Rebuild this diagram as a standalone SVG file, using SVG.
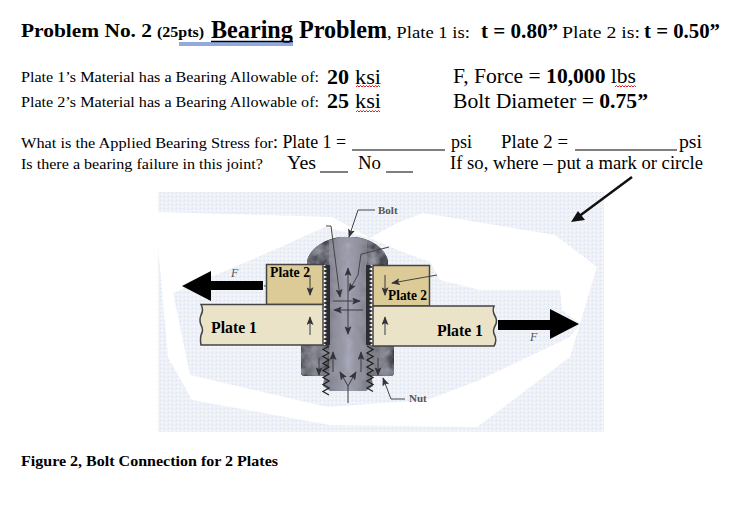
<svg xmlns="http://www.w3.org/2000/svg" width="749" height="507" viewBox="0 0 749 507">
<style>
text{font-family:"Liberation Serif","Times New Roman",serif;fill:#000}
.b{font-weight:bold}
.s{font-size:15px}
.m{font-size:18px}
.l{font-size:21px}
.ul{stroke:#000;stroke-width:1.2;fill:none}
.sq{stroke:#e02020;stroke-width:1;fill:none}
.pl2{fill:#dccb96;stroke:#444;stroke-width:1.5}
.pl1{fill:#ebe3c8;stroke:#444;stroke-width:1.5}
.lab{font-weight:bold;font-size:14px}
.lead{stroke:#444;stroke-width:1;fill:none;marker-end:url(#sm)}
.in{stroke:#3a3a42;stroke-width:1;fill:none;marker-end:url(#sm)}
.noh{stroke:#444;stroke-width:1;fill:none}
.cap{font-size:11px;font-weight:bold;fill:#555}
.th{fill:#2c2c30;stroke:none}
</style>
<defs>
<marker id="sm" viewBox="0 0 10 8" refX="9" refY="4" markerWidth="9" markerHeight="7" markerUnits="userSpaceOnUse" orient="auto"><path d="M0 0L10 4L0 8L2 4Z" fill="#33333a"/></marker>
<pattern id="dith" width="4" height="4" patternUnits="userSpaceOnUse"><rect width="4" height="4" fill="#eef2f8"/><rect width="1" height="1" fill="#dbe2f0"/><rect x="2" y="2" width="1" height="1" fill="#fff"/><rect x="3" y="1" width="1" height="1" fill="#e4e9f4"/></pattern>
<filter id="mott" x="0" y="0" width="100%" height="100%"><feTurbulence type="fractalNoise" baseFrequency="0.09" numOctaves="3" seed="4"/><feColorMatrix values="0 0 0 0 0.3  0 0 0 0 0.3  0 0 0 0 0.36  1.8 0 0 0 -0.5"/><feComposite in2="SourceAlpha" operator="in" result="n"/><feMerge><feMergeNode in="SourceGraphic"/><feMergeNode in="n"/></feMerge></filter>
<linearGradient id="shaft" x1="0" x2="1" y1="0" y2="0"><stop offset="0" stop-color="#6c6c76"/><stop offset=".5" stop-color="#a8a9ba"/><stop offset="1" stop-color="#6c6c76"/></linearGradient>
<linearGradient id="nutg" x1="0" x2="1" y1="0" y2="0"><stop offset="0" stop-color="#505056"/><stop offset=".5" stop-color="#7c7c84"/><stop offset="1" stop-color="#404046"/></linearGradient>
</defs>
<rect width="749" height="507" fill="#fff"/>

<g id="background">
<rect x="158" y="192" width="446" height="240" fill="url(#dith)"/>
<path fill="#fff" d="M158 212L332 217L370 238L397 223L423 213L555 235L597 267L593 280L570 357L477 427L330 425L192 400L168 357L158 245Z"/>
<path fill="url(#dith)" d="M173 293L267 253L325 227L370 238L390 247L430 262L440 280L480 290L560 290L562 310L580 324L570 337L480 380L427 400L327 407L190 375Z"/>
</g>

<g id="title">
<text x="21" y="37" class="b" font-size="19" textLength="131" lengthAdjust="spacingAndGlyphs">Problem No. 2</text>
<text x="157" y="37" class="b" font-size="15" textLength="47" lengthAdjust="spacingAndGlyphs">(25pts)</text>
<text x="211" y="38" class="b" font-size="25" textLength="176" lengthAdjust="spacingAndGlyphs">Bearing Problem</text>
<text x="387" y="38" font-size="17" textLength="83" lengthAdjust="spacingAndGlyphs">, Plate 1 is:</text>
<text x="481" y="38" class="b" font-size="20" textLength="77" lengthAdjust="spacingAndGlyphs">t = 0.80”</text>
<text x="562" y="38" font-size="17" textLength="78" lengthAdjust="spacingAndGlyphs">Plate 2 is:</text>
<text x="644" y="38" class="b" font-size="20" textLength="76" lengthAdjust="spacingAndGlyphs">t = 0.50”</text>
<path d="M211 41.500H293" stroke="#000" stroke-width="1.500" fill="none"/>
<path d="M179 43H293M179 45H293" stroke="#2a55b8" stroke-width="1" fill="none"/>
</g>

<g id="givens">
<text x="21" y="82" class="s" textLength="298" lengthAdjust="spacingAndGlyphs">Plate 1’s Material has a Bearing Allowable of:</text>
<text x="327" y="84" class="b l" textLength="22" lengthAdjust="spacingAndGlyphs">20</text>
<text x="355" y="84" class="l" textLength="26" lengthAdjust="spacingAndGlyphs">ksi</text>
<text x="453" y="83" class="l" textLength="183" lengthAdjust="spacingAndGlyphs">F, Force = <tspan class="b">10,000</tspan> lbs</text>
<text x="21" y="107" class="s" textLength="298" lengthAdjust="spacingAndGlyphs">Plate 2’s Material has a Bearing Allowable of:</text>
<text x="327" y="108" class="b l" textLength="22" lengthAdjust="spacingAndGlyphs">25</text>
<text x="355" y="108" class="l" textLength="26" lengthAdjust="spacingAndGlyphs">ksi</text>
<text x="453" y="108" class="l" textLength="195" lengthAdjust="spacingAndGlyphs">Bolt Diameter = <tspan class="b">0.75”</tspan></text>
<path class="sq" d="M356 87l1.500 -1.500l1.500 1.500l1.500 -1.500l1.500 1.500l1.500 -1.500l1.500 1.500l1.500 -1.500l1.500 1.500l1.500 -1.500l1.500 1.500l1.500 -1.500l1.500 1.500l1.500 -1.500l1.500 1.500l1.500 -1.500l1.500 1.500"/>
<path class="sq" d="M356 112l1.500 -1.500l1.500 1.500l1.500 -1.500l1.500 1.500l1.500 -1.500l1.500 1.500l1.500 -1.500l1.500 1.500l1.500 -1.500l1.500 1.500l1.500 -1.500l1.500 1.500l1.500 -1.500l1.500 1.500l1.500 -1.500l1.500 1.500"/>
<path class="sq" d="M615 87l1.500 -1.500l1.500 1.500l1.500 -1.500l1.500 1.500l1.500 -1.500l1.500 1.500l1.500 -1.500l1.500 1.500l1.500 -1.500l1.500 1.500l1.500 -1.500l1.500 1.500l1.500 -1.500l1.500 1.500"/>
</g>

<g id="questions">
<text x="21" y="148" class="s" textLength="252" lengthAdjust="spacingAndGlyphs">What is the Applied Bearing Stress for</text>
<text x="273" y="148" class="m" textLength="73" lengthAdjust="spacingAndGlyphs">: Plate 1 =</text>
<text x="451" y="148" class="m" textLength="21" lengthAdjust="spacingAndGlyphs">psi</text>
<text x="501" y="148" class="m" textLength="67" lengthAdjust="spacingAndGlyphs">Plate 2 =</text>
<text x="679" y="148" class="m" textLength="23" lengthAdjust="spacingAndGlyphs">psi</text>
<text x="21" y="169" class="s" textLength="242" lengthAdjust="spacingAndGlyphs">Is there a bearing failure in this joint?</text>
<text x="287" y="169" class="m" textLength="29" lengthAdjust="spacingAndGlyphs">Yes</text>
<text x="358" y="169" class="m" textLength="23" lengthAdjust="spacingAndGlyphs">No</text>
<text x="450" y="169" class="m" textLength="253" lengthAdjust="spacingAndGlyphs">If so, where – put a mark or circle</text>
<path class="ul" d="M352 150H445M575 150H677M320 172H348M386 172H413"/>
</g>

<g id="bolt">
<path d="M307 265C307 250 325 237 348 237C371 237 388 250 388 265Z" fill="#4a4a52" filter="url(#mott)" stroke="#333" stroke-width="1"/>
<path d="M329 240Q348 234 367 240V345L373 386L366 391H330L323 386L329 345Z" fill="url(#shaft)" filter="url(#mott)"/>
</g>

<g id="nut">
<path d="M301 345H329V376H305Q301 376 301 372Z" fill="url(#nutg)" filter="url(#mott)" stroke="#333" stroke-width="1"/>
<path d="M367 345H394V372Q394 376 390 376H367Z" fill="url(#nutg)" filter="url(#mott)" stroke="#333" stroke-width="1"/>
<path d="M329 346l-6 3.500l6 3.500l-6 3.500l6 3.500l-6 3.500l6 3.500l-6 3.500l6 3.500l-6 3.500l6 3.500l-6 3.500l6 3.500l-6 3.500l6 3.500" fill="none" stroke="#222" stroke-width="1.300"/>
<path d="M367 346l6 3.500l-6 3.500l6 3.500l-6 3.500l6 3.500l-6 3.500l6 3.500l-6 3.500l6 3.500l-6 3.500l6 3.500l-6 3.500l6 3.500" fill="none" stroke="#222" stroke-width="1.300"/>
</g>

<g id="threads">
<rect x="323" y="265" width="6" height="80" fill="#fff"/>
<rect x="367" y="265" width="6" height="80" fill="#fff"/>
<path class="th" d="M330 265H326L323 267L327 269L323 271L327 273L323 275L327 277L323 279L327 281L323 283L327 285L323 287L327 289L323 291L327 293L323 295L327 297L323 299L327 301L323 303L327 305L323 307L327 309L323 311L327 313L323 315L327 317L323 319L327 321L323 323L327 325L323 327L327 329L323 331L327 333L323 335L327 337L323 339L327 341L323 343L326 345H330Z"/>
<path class="th" d="M366 265H370L373 267L369 269L373 271L369 273L373 275L369 277L373 279L369 281L373 283L369 285L373 287L369 289L373 291L369 293L373 295L369 297L373 299L369 301L373 303L369 305L373 307L369 309L373 311L369 313L373 315L369 317L373 319L369 321L373 323L369 325L373 327L369 329L373 331L369 333L373 335L369 337L373 339L369 341L373 343L370 345H366Z"/>
</g>

<g id="plate-2-left"><rect class="pl2" x="266.500" y="264.500" width="56.500" height="40"/><text class="lab" x="270" y="277" textLength="40" lengthAdjust="spacingAndGlyphs">Plate 2</text></g>
<g id="plate-2-right"><rect class="pl2" x="373" y="265.500" width="56.500" height="40.500"/><text class="lab" x="388" y="300" textLength="39" lengthAdjust="spacingAndGlyphs">Plate 2</text></g>
<g id="plate-1-left"><path class="pl1" d="M323 304.500H201Q204 310 201 315Q199 320 201 325Q204 330 201 335Q200 340 201 345H323Z"/><text class="lab" x="211" y="333" style="font-size:16px" textLength="46" lengthAdjust="spacingAndGlyphs">Plate 1</text></g>
<g id="plate-1-right"><path class="pl1" d="M373 306H494Q492 311 495 316Q498 321 495 326Q492 331 495 336Q497 341 494 346H373Z"/><text class="lab" x="437" y="336" style="font-size:16px" textLength="46" lengthAdjust="spacingAndGlyphs">Plate 1</text></g>

<g id="connectors">
<path fill="#000" d="M182 286L211 271V281H263V290H211V301Z"/>
<path fill="#000" d="M498 320H550V309L579 324L550 339V330H498Z"/>
<path d="M632 177L574 220" stroke="#111" stroke-width="2.500" fill="none"/>
<path fill="#111" d="M571 222L578 211L585 220Z"/>
<path class="lead" d="M375 210H358L349 237"/>
<path class="lead" d="M405 399H391L383 378"/>
<path class="lead" d="M326 226H331L340 297"/>
<path class="lead" d="M389 247L362 254H361L358 275L349 291"/>
<path class="lead" d="M437 275L392 283"/>
<path class="in" d="M310 275V295"/>
<path class="in" d="M310 335V317"/>
<path class="in" d="M385 275V295"/>
<path class="in" d="M385 335V317"/>
<path class="in" d="M348 300V268"/>
<path class="in" d="M348 300V334"/>
<path class="in" d="M333 301H360"/>
<path class="in" d="M363 310H334"/>
<path class="in" d="M319 358V375"/>
<path class="in" d="M333 372V352"/>
<path class="in" d="M361 372V352"/>
<path class="in" d="M378 358V375"/>
<path class="in" d="M348 403V386L340 372"/>
<path class="in" d="M348 386L356 372"/>
<path class="noh" d="M264 286H266"/>
</g>

<g id="labels">
<text class="cap" x="378" y="214">Bolt</text>
<text class="cap" x="409" y="402">Nut</text>
<text x="231" y="277" font-size="12" font-style="italic" style="fill:#555">F</text>
<text x="530" y="341" font-size="12" font-style="italic" style="fill:#555">F</text>
</g>

<g id="caption"><text x="21" y="466" class="b" font-size="14.500" textLength="257" lengthAdjust="spacingAndGlyphs">Figure 2, Bolt Connection for 2 Plates</text></g>
</svg>
